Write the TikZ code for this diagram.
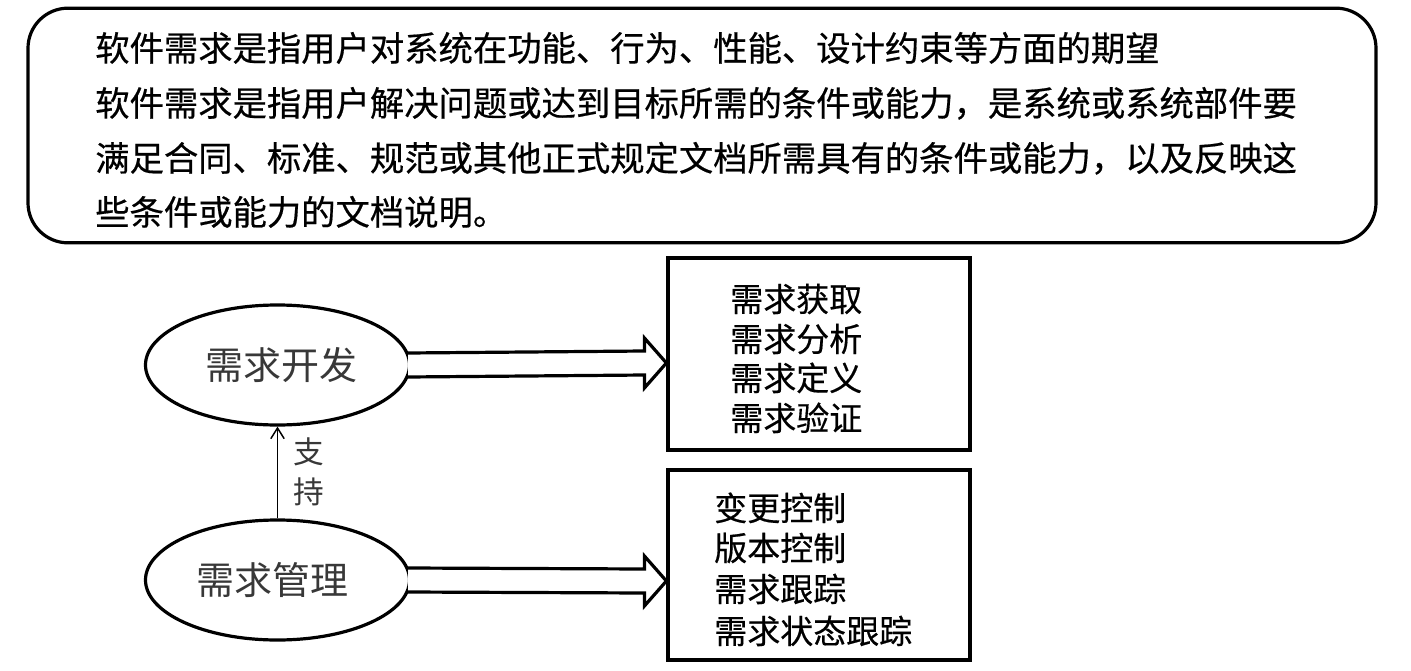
\documentclass[tikz,border=0pt]{standalone}
\usepackage{fontspec}
\newfontfamily\cjk{Noto Sans CJK SC}
\newfontfamily\cjkh{Noto Sans CJK SC}[FakeBold=0.5]
\usetikzlibrary{arrows.meta,calc,shapes.geometric}
\begin{document}
\begin{tikzpicture}[x=0.75pt,y=-0.75pt,
  deftext/.style={anchor=base west, inner sep=0pt, font=\cjkh\fontsize{25.75}{30}\selectfont},
  listtext/.style={anchor=base west, inner sep=0pt, font=\cjkh\fontsize{24.75}{30}\selectfont},
  phase/.style={ellipse, draw, line width=2.4pt, minimum width=198pt, minimum height=90pt, inner sep=0pt, font=\cjk\fontsize{28.5}{30}\selectfont, text=black!78},
  listbox/.style={draw, line width=2.4pt, minimum width=226.5pt, inner sep=0pt},
  defbox/.style={draw, line width=2.4pt, rounded corners=30pt, minimum width=1011pt, minimum height=176pt, inner sep=0pt},
  blockarrow/.style={draw, line width=2.4pt, line join=miter, fill=white},
  support/.style={line width=1.1pt, -{Straight Barb[length=8pt,width=10pt]}},
  supporttext/.style={inner sep=0pt, font=\cjk\fontsize{23}{30}\selectfont, text=black!78},
]
\useasboundingbox (0,0) rectangle (1411,671);

% definition box
\node[defbox] (def) at (702,125.5) {};
\node[deftext] (l1) at (95,61) {软件需求是指用户对系统在功能、行为、性能、设计约束等方面的期望};
\node[deftext] (l2) at (95,116) {软件需求是指用户解决问题或达到目标所需的条件或能力，是系统或系统部件要};
\node[deftext] (l3) at (95,171) {满足合同、标准、规范或其他正式规定文档所需具有的条件或能力，以及反映这};
\node[deftext] (l4) at (95,225) {些条件或能力的文档说明。};

% ellipses
\node[phase] (dev) at (277.5,365) {\hspace*{6pt}需求开发};
\node[phase] (mgmt) at (277.5,580) {需求管理\hspace*{8pt}};

% boxes
\node[listbox, minimum height=144pt] (b1) at (819,354) {};
\node[listbox, minimum height=142.5pt] (b2) at (819,565) {};

\node[listtext] (a1) at (730,311.5) {需求获取};
\node[listtext] (a2) at (730,351.5) {需求分析};
\node[listtext] (a3) at (730,390.5) {需求定义};
\node[listtext] (a4) at (730,430.5) {需求验证};

\node[listtext] (c1) at (714,520.5) {变更控制};
\node[listtext] (c2) at (714,560.5) {版本控制};
\node[listtext] (c3) at (714,601.5) {需求跟踪};
\node[listtext] (c4) at (714,643.5) {需求状态跟踪};

% block arrows
\coordinate (t1) at (b1.west |- 0,363);
\draw[blockarrow] ($(dev.east)+(-3,-12)$) -- ($(t1)+(-22,-12)$) -- ($(t1)+(-22,-25)$) -- (t1)
  -- ($(t1)+(-22,25)$) -- ($(t1)+(-22,12)$) -- ($(dev.east)+(-3,12)$);
\coordinate (t2) at (b2.west |- 0,581);
\draw[blockarrow] ($(mgmt.east)+(-3,-12)$) -- ($(t2)+(-22,-12)$) -- ($(t2)+(-22,-25)$) -- (t2)
  -- ($(t2)+(-22,25)$) -- ($(t2)+(-22,12)$) -- ($(mgmt.east)+(-3,12)$);

% support arrow
\draw[support] (mgmt.north) -- (dev.south);
\node[supporttext] (s1) at (309,452) {支};
\node[supporttext] (s2) at (309,492) {持};
\end{tikzpicture}
\end{document}
